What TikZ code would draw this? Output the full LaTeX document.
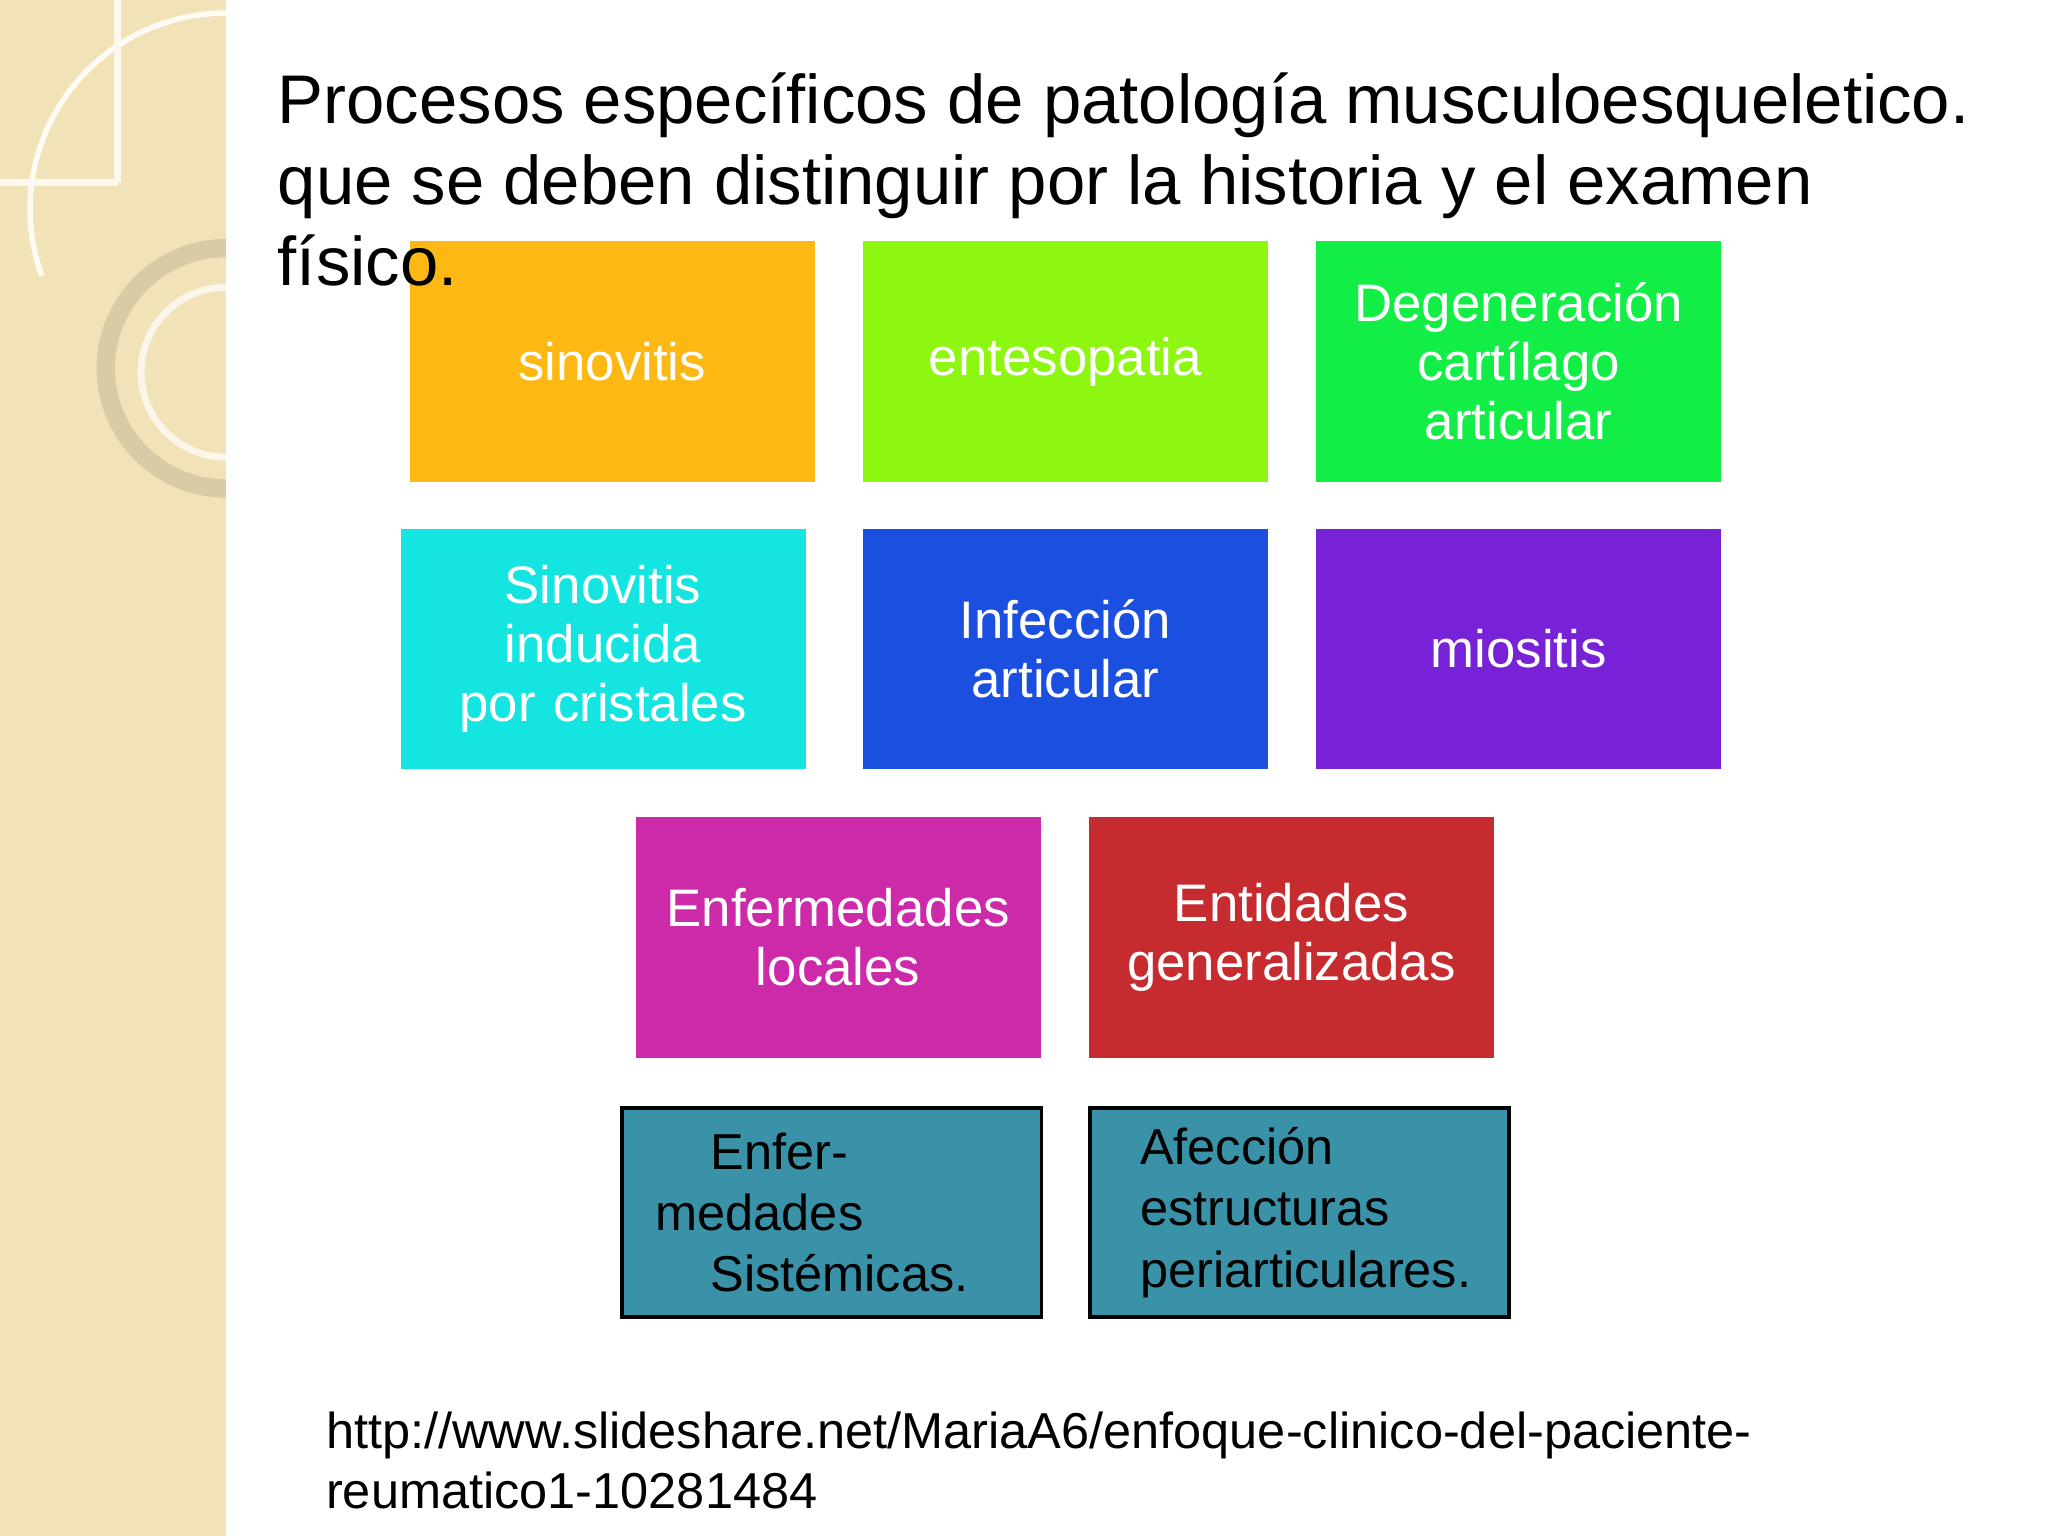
\documentclass[tikz,border=0pt]{standalone}
\usepackage{fontspec}
\setmainfont{Liberation Sans}
\begin{document}
\begin{tikzpicture}[x=1cm,y=1cm,
  box/.style={anchor=north west,minimum width=3.1cm,minimum height=1.84cm,inner sep=2pt,text width=2.95cm,align=center,text=white,font=\fontsize{11.5}{12.8}\selectfont},
  tbox/.style={anchor=north west,minimum height=1.6cm,draw=black,line width=0.8pt,fill=tealc,font=\fontsize{11}{13.3}\selectfont,align=left}]
\definecolor{beige}{HTML}{F2E2B8}
\definecolor{tealc}{HTML}{3A92A8}
\useasboundingbox (0,0) rectangle (15.68,-11.76);
\fill[white] (0,0) rectangle (15.68,-11.76);
\fill[beige] (0,0) rectangle (1.73,-11.76);
\draw[white!85!beige,line width=1.2pt] (1.73,-0.1) arc (90:200:1.5);
\draw[white!75!beige,line width=1.5pt] (0,-1.4) -- (0.9,-1.4) (0.9,0) -- (0.9,-1.4);
\draw[beige!80!black,line width=4pt,opacity=0.5] (1.73,-1.9) arc (90:270:0.92);
\draw[white!70!beige,line width=1.5pt] (1.73,-2.2) arc (90:270:0.65);
\node[box,fill={rgb,255:red,253;green,184;blue,19}] (a) at (3.13,-1.84) {sinovitis};
\node[box,fill={rgb,255:red,142;green,247;blue,18}] (b) at (6.60,-1.84) {entesopatia};
\node[box,fill={rgb,255:red,18;green,238;blue,69}] (c) at (10.07,-1.84) {Degeneración cartílago articular};
\node[box,fill={rgb,255:red,20;green,229;blue,224}] (d) at (3.06,-4.04) {Sinovitis inducida por cristales};
\node[box,fill={rgb,255:red,26;green,79;blue,224}] (e) at (6.60,-4.04) {Infección articular};
\node[box,fill={rgb,255:red,119;green,34;blue,214}] (f) at (10.07,-4.04) {miositis};
\node[box,fill={rgb,255:red,204;green,42;blue,168}] (g) at (4.86,-6.25) {Enfermedades locales};
\node[box,fill={rgb,255:red,198;green,43;blue,47}] (h) at (8.33,-6.25) {Entidades generalizadas};
\node[tbox,minimum width=3.21cm,text width=2.7cm,inner sep=0pt] (i) at (4.75,-8.47) {\hspace*{0.42cm}Enfermedades\\\hspace*{0.42cm}Sistémicas.};
\node[tbox,minimum width=3.21cm,text width=3.0cm,inner sep=0pt] (j) at (8.33,-8.47) {\hspace*{0.28cm}Afección\\\hspace*{0.28cm}estructuras\\\hspace*{0.28cm}periarticulares.};
\node[anchor=north west,inner sep=0pt,align=left,font=\fontsize{15}{17.6}\selectfont] (t) at (2.12,-0.55) {Procesos específicos de patología musculoesqueletico.\\que se deben distinguir por la historia y el examen\\físico.};
\node[anchor=north west,inner sep=0pt,align=left,font=\fontsize{11}{13.1}\selectfont] (u) at (2.49,-10.80) {http://www.slideshare.net/MariaA6/enfoque-clinico-del-paciente-\\reumatico1-10281484};
\end{tikzpicture}
\end{document}
